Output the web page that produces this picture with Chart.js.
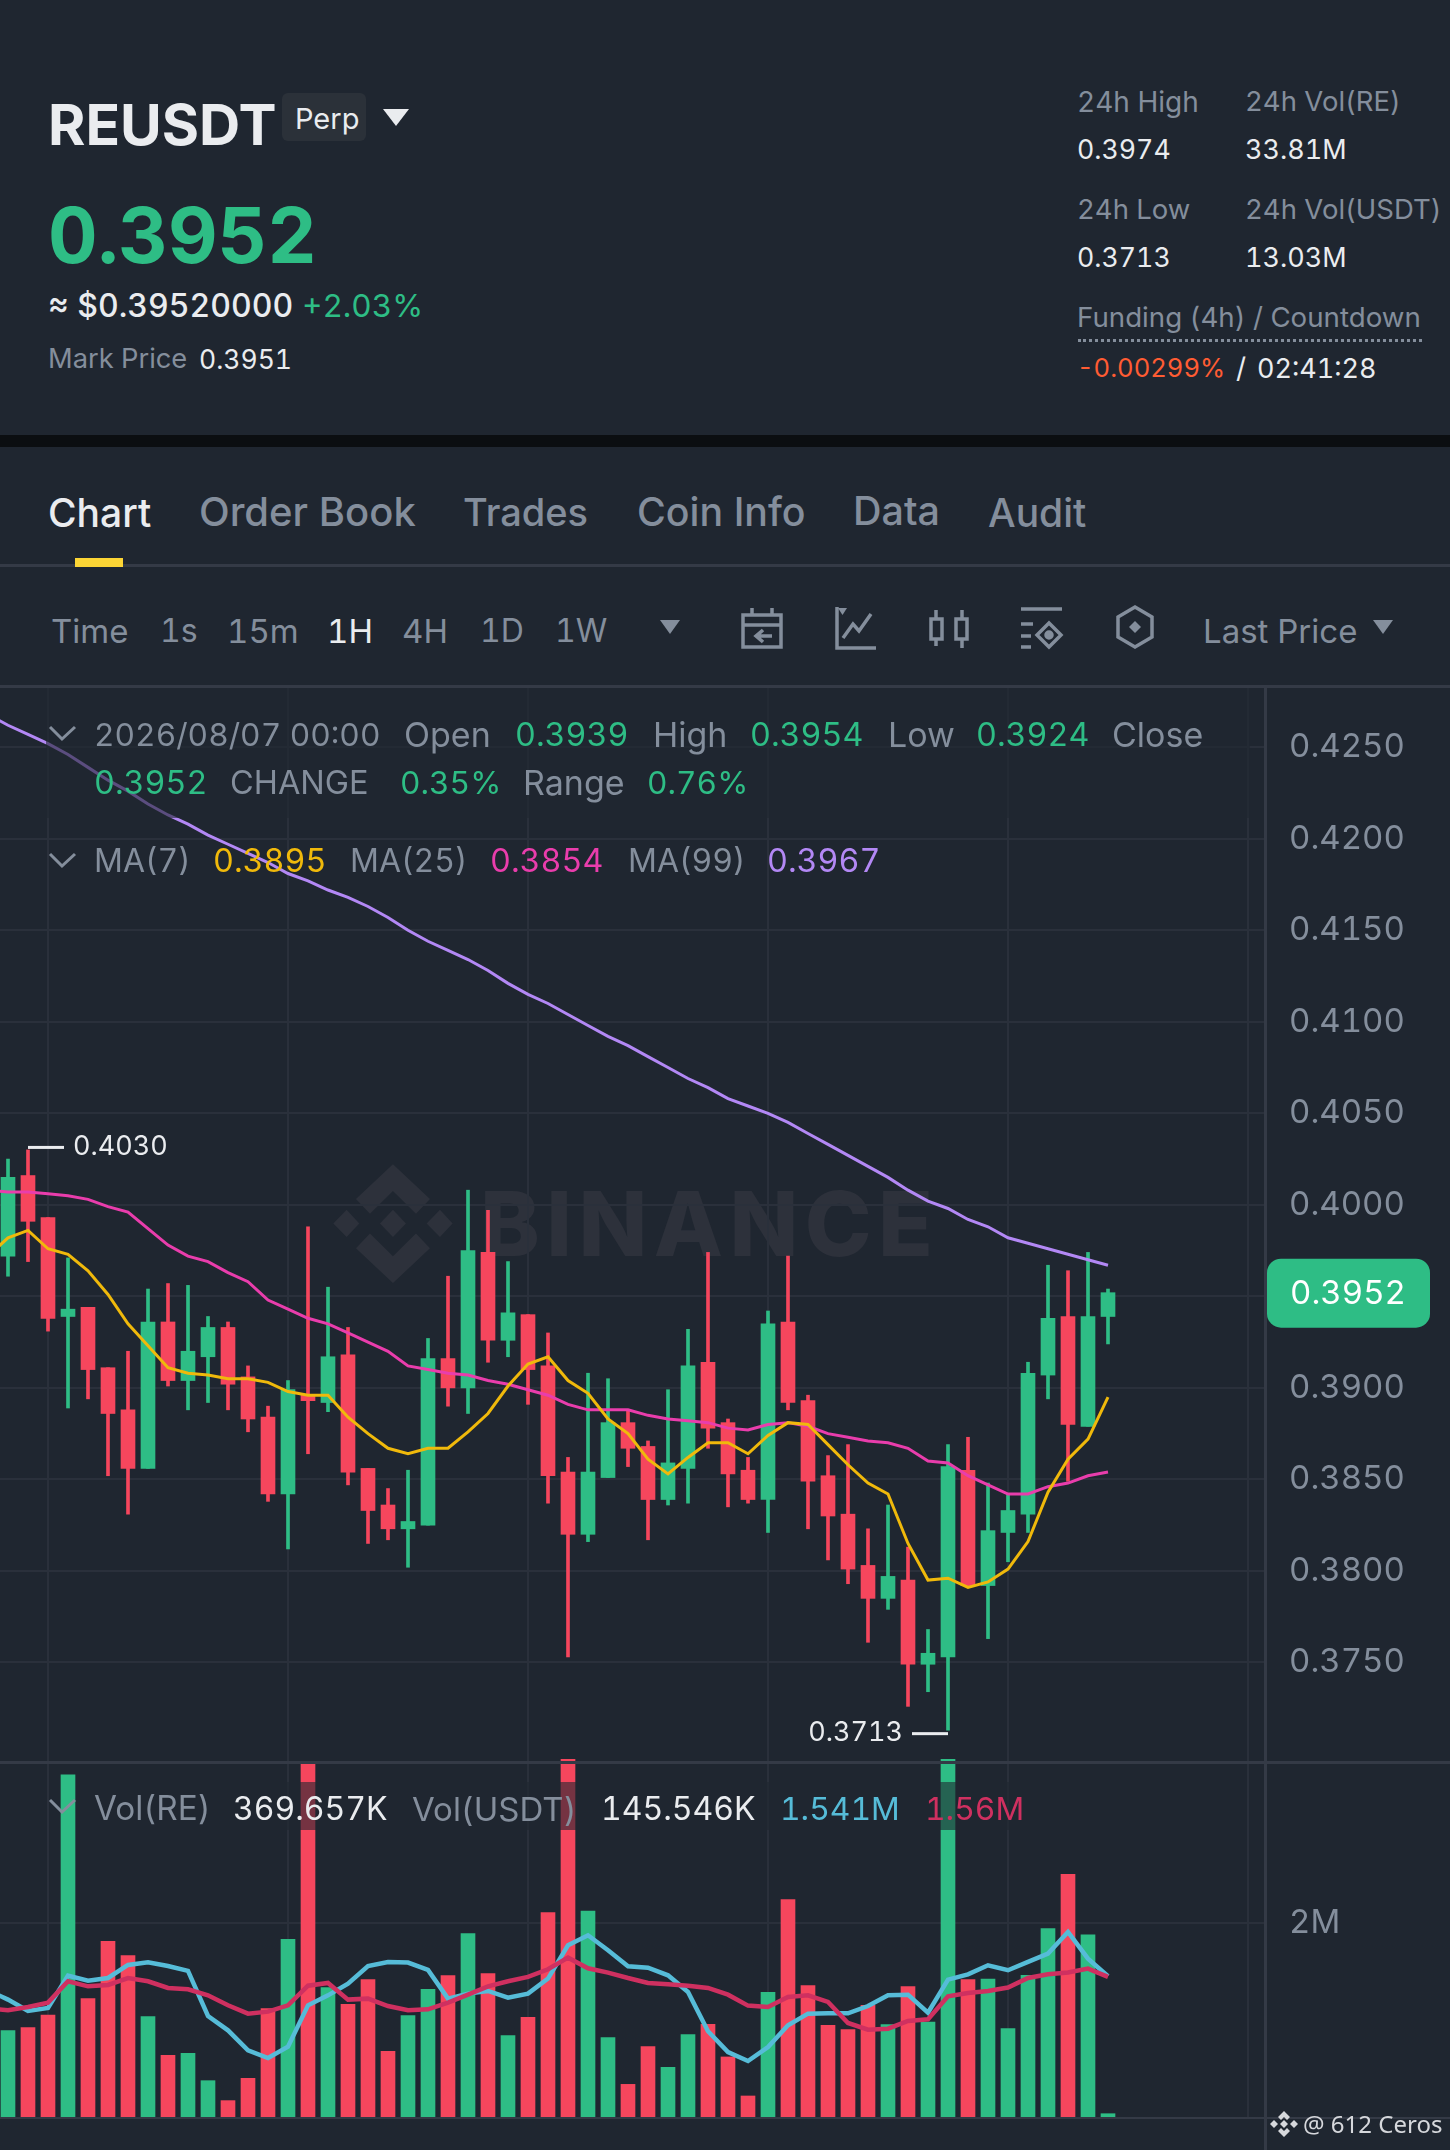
<!DOCTYPE html>
<html>
<head>
<meta charset="utf-8">
<title>REUSDT</title>
<script src="https://cdn.jsdelivr.net/npm/chart.js@4"></script>
<style>
    html, body { margin: 0; padding: 0; background: #1f2630; }
    body { position: relative; width: 1450px; height: 2150px; overflow: hidden; font-family: Inter, sans-serif; font-variant-numeric: tabular-nums; }
    .abs { position: absolute; }
    .t { position: absolute; white-space: nowrap; line-height: 1; transform: translateY(-50%); z-index: 6; }
    canvas { position: absolute; left: 0; z-index: 2; }
    .rule { position: absolute; background: #343a46; z-index: 4; }
</style>
</head>
<body>
<svg class="abs" style="left:0;top:0;z-index:1" width="1450" height="2150">
    <g fill="#2d313b" transform="translate(0,1100) scale(0.3333,0.4337)">
        <polygon points="1068,228 1179,148 1290,228 1248,262 1179,210 1110,262"/>
        <polygon points="1000,285 1040,253 1078,285 1040,316"/>
        <polygon points="1140,285 1179,253 1218,285 1179,316"/>
        <polygon points="1280,285 1320,253 1358,285 1320,316"/>
        <polygon points="1068,342 1110,308 1179,360 1248,308 1290,342 1179,422"/>
    </g>
    <text x="480" y="1256" fill="#2d313b" font-family="Inter" font-weight="800" font-size="90" textLength="453" lengthAdjust="spacing">BINANCE</text>
</svg>
<canvas id="price-chart" width="1450" height="1077" style="top:685px;width:1450px;height:1077px"></canvas>
<canvas id="volume-chart" width="1450" height="358" style="top:1759px;width:1450px;height:358px"></canvas>
<div id="overlay"></div>

<script>
// candles
const opens = [.3972,.4016,.3993,.3939,.3944,.3911,.3888,.3856,.3936,.3904,.3917,.3933,.3906,.3884,.3842,.3896,.3892,.3918,.3856,.3836,.3823,.3825,.3916,.3900,.3974,.3926,.3940,.3912,.3854,.3820,.3851,.3881,.3868,.3839,.3856,.3914,.3881,.3855,.3839,.3936,.3893,.3852,.3831,.3803,.3785,.3795,.3749,.3753,.3855,.3792,.3821,.3831,.3907,.3939,.3879,.3939];
const highs = [.4025,.4030,.3993,.3971,.3944,.3911,.3920,.3954,.3957,.3956,.3939,.3936,.3912,.3890,.3904,.3988,.3955,.3933,.3856,.3845,.3855,.3927,.3961,.4008,.3997,.3969,.3940,.3930,.3862,.3908,.3905,.3888,.3871,.3899,.3932,.3974,.3883,.3862,.3942,.3972,.3896,.3863,.3869,.3823,.3836,.3813,.3768,.3869,.3873,.3848,.3842,.3914,.3967,.3964,.3974,.3954];
const lows = [.3961,.3969,.3931,.3889,.3894,.3852,.3831,.3856,.3901,.3888,.3892,.3888,.3876,.3838,.3812,.3864,.3887,.3847,.3815,.3817,.3802,.3825,.3890,.3886,.3914,.3917,.3891,.3837,.3753,.3816,.3851,.3857,.3817,.3836,.3837,.3867,.3835,.3837,.3821,.3888,.3823,.3806,.3793,.3761,.3779,.3726,.3734,.3713,.3792,.3763,.3805,.3821,.3894,.3849,.3879,.3924];
const closes = [.4015,.3991,.3938,.3943,.3910,.3886,.3856,.3936,.3904,.3920,.3933,.3902,.3883,.3842,.3899,.3893,.3917,.3854,.3833,.3823,.3827,.3916,.3900,.3975,.3926,.3941,.3910,.3852,.3820,.3854,.3881,.3867,.3839,.3859,.3912,.3878,.3853,.3839,.3935,.3892,.3849,.3830,.3801,.3785,.3797,.3749,.3755,.3857,.3792,.3822,.3833,.3908,.3938,.3880,.3939,.3952];

// moving averages, first entry sits one candle left of the screen
const ma7 = [.3972,.3982,.3986,.3976,.3973,.3964,.3951,.3935,.3923,.3911,.3908,.3907,.3905,.3905,.3903,.3898,.3896,.3896,.3884,.3875,.3867,.3864,.3867,.3867,.3876,.3886,.3901,.3913,.3917,.3904,.3897,.3883,.3875,.3861,.3853,.3862,.3870,.3870,.3864,.3874,.3881,.3880,.3869,.3858,.3848,.3842,.3815,.3795,.3796,.3791,.3794,.3801,.3816,.3843,.3861,.3872,.3895];
const ma25 = [.4008,.4007,.4007,.4006,.4005,.4003,.3999,.3996,.3987,.3978,.3972,.3969,.3963,.3958,.3948,.3943,.3938,.3935,.3930,.3925,.3920,.3912,.3910,.3908,.3907,.3904,.3902,.3899,.3896,.3891,.3888,.3888,.3888,.3885,.3883,.3882,.3881,.3878,.3877,.3880,.3881,.3879,.3875,.3873,.3871,.3870,.3867,.3860,.3859,.3852,.3847,.3842,.3842,.3846,.3848,.3852,.3854];
const ma99 = [.4268,.4262,.4257,.4252,.4246,.4239,.4232,.4226,.4219,.4213,.4208,.4202,.4197,.4192,.4187,.4181,.4177,.4172,.4168,.4163,.4157,.4150,.4144,.4139,.4134,.4128,.4121,.4115,.4110,.4104,.4098,.4092,.4087,.4081,.4075,.4069,.4064,.4058,.4054,.4050,.4045,.4039,.4033,.4027,.4021,.4015,.4008,.4002,.3998,.3992,.3988,.3982,.3979,.3976,.3973,.3970,.3967];

// volume in millions
const volumes = [.892,.923,1.053,3.532,1.222,1.814,1.666,1.036,.637,.657,.375,.169,.399,1.119,1.835,3.642,1.336,1.164,1.418,.678,1.046,1.318,1.460,1.893,1.480,.840,1.029,2.110,3.800,2.127,.819,.337,.726,.513,.850,.957,.620,.217,1.287,2.244,1.356,.947,.902,1.153,.954,1.346,.981,3.800,1.418,1.425,.912,1.463,1.945,2.506,1.880,.034];
const volMaBlue = [1.308,1.212,1.095,1.126,1.460,1.408,1.435,1.570,1.597,1.559,1.508,1.043,.895,.688,.609,.726,1.153,1.256,1.377,1.559,1.601,1.594,1.518,1.222,1.274,1.301,1.232,1.274,1.429,1.773,1.876,1.721,1.556,1.542,1.463,1.291,.885,.671,.578,.723,.947,1.067,1.071,1.071,1.146,1.256,1.263,1.077,1.418,1.473,1.566,1.515,1.601,1.687,1.910,1.635,1.453];
const volMaRed = [1.119,1.102,1.136,1.181,1.401,1.349,1.363,1.435,1.401,1.332,1.318,1.256,1.153,1.067,1.088,1.153,1.356,1.384,1.212,1.222,1.146,1.102,1.112,1.181,1.263,1.349,1.401,1.446,1.525,1.645,1.535,1.491,1.435,1.384,1.370,1.356,1.332,1.263,1.150,1.136,1.239,1.256,1.188,.971,.902,.912,.991,1.009,1.246,1.281,1.301,1.336,1.435,1.473,1.491,1.532,1.446];

const priceTicks = [.425,.42,.415,.41,.405,.4,.395,.39,.385,.38,.375];
const volumeTicks = [2];
const timeTicks = [2,14,26,38,50,62];
const lastPrice = .3952;
const highMark = .4030;
const lowMark = .3713;

const GREEN = '#2ebd85', RED = '#f6465d', GRID = '#2a303b', AXIS = '#848e9c';
const GRAY = '#848e9c', WHITE = '#eaecef';

const candleColors = closes.map((c, i) => c >= opens[i] ? GREEN : RED);
const volumeColors = candleColors;
const toLine = arr => arr.map((v, i) => ({ x: i - 1, y: v }));

// same x range on both panes: 20px per candle, first candle at x=8
const xAxis = () => ({
    type: 'linear', min: -0.4, max: 62.85, offset: false,
    afterBuildTicks: s => { s.ticks = timeTicks.map(v => ({ value: v })); },
    ticks: { display: false },
    grid: { color: GRID, lineWidth: 2, drawTicks: false, offset: false },
    border: { display: false },
    afterFit: s => { s.height = 0; s.paddingLeft = 0; s.paddingRight = 0; }
});

function yAxis(min, max, ticks, fmt) {
    return {
        position: 'right', min: min, max: max,
        afterBuildTicks: s => { s.ticks = ticks.map(v => ({ value: v })); },
        afterFit: s => { s.width = 185; s.paddingTop = 0; s.paddingBottom = 0; },
        ticks: { color: AXIS, padding: 24, font: { family: 'Inter', size: 33 }, callback: fmt },
        grid: { color: GRID, lineWidth: 2, drawTicks: false },
        border: { display: false }
    };
}

const baseOptions = {
    responsive: false,
    animation: false,
    events: [],
    devicePixelRatio: 1,
    layout: { padding: 0 },
    plugins: { legend: { display: false }, tooltip: { enabled: false } }
};

const priceMarks = {
    id: 'priceMarks',
    afterDraw(chart) {
        const ctx = chart.ctx, y = chart.scales.y;
        // last price pill
        const py = y.getPixelForValue(lastPrice);
        ctx.save();
        ctx.fillStyle = GREEN;
        ctx.beginPath();
        ctx.roundRect(1267, py - 34, 163, 69, 14);
        ctx.fill();
        ctx.fillStyle = '#ffffff';
        ctx.font = '33px Inter';
        ctx.textAlign = 'center';
        ctx.textBaseline = 'middle';
        ctx.fillText(lastPrice.toFixed(4), 1348, py + 1);
        // high and low marks
        const hi = y.getPixelForValue(highMark) - 3, lo = y.getPixelForValue(lowMark) + 3;
        ctx.fillStyle = WHITE;
        ctx.font = '27px Inter';
        ctx.fillRect(28, hi - 1, 36, 3);
        ctx.fillRect(912, lo - 1, 36, 3);
        ctx.textAlign = 'left';
        ctx.fillText(highMark.toFixed(4), 73, hi);
        ctx.textAlign = 'right';
        ctx.fillText(lowMark.toFixed(4), 903, lo);
        ctx.restore();
    }
};

new Chart(document.getElementById('price-chart'), {
    type: 'bar',
    data: {
        datasets: [
            { type: 'line', data: toLine(ma7), borderColor: '#f0b90b', borderWidth: 3, pointRadius: 0, tension: 0, order: 1 },
            { type: 'line', data: toLine(ma25), borderColor: '#e93dac', borderWidth: 3, pointRadius: 0, tension: 0, order: 1 },
            { type: 'line', data: toLine(ma99), borderColor: '#b388f5', borderWidth: 3, pointRadius: 0, tension: 0, order: 1 },
            { data: opens.map((o, i) => ({ x: i, y: [o, closes[i]] })), backgroundColor: candleColors, barThickness: 14, grouped: false, order: 2 },
            { data: lows.map((l, i) => ({ x: i, y: [l, highs[i]] })), backgroundColor: candleColors, barThickness: 3, grouped: false, order: 3 }
        ]
    },
    options: Object.assign({}, baseOptions, {
        scales: { x: xAxis(), y: yAxis(.36956, .4284, priceTicks, v => v.toFixed(4)) }
    }),
    plugins: [priceMarks]
});

new Chart(document.getElementById('volume-chart'), {
    type: 'bar',
    data: {
        datasets: [
            { type: 'line', data: toLine(volMaBlue), borderColor: '#56bcd8', borderWidth: 4.5, pointRadius: 0, tension: 0, order: 2 },
            { type: 'line', data: toLine(volMaRed), borderColor: '#cf3060', borderWidth: 4.5, pointRadius: 0, tension: 0, order: 1 },
            { data: volumes.map((v, i) => ({ x: i, y: v })), backgroundColor: volumeColors, barThickness: 14, grouped: false, order: 3 }
        ]
    },
    options: Object.assign({}, baseOptions, {
        scales: { x: xAxis(), y: yAxis(0, 3.696, volumeTicks, v => v + 'M') }
    })
});

// page furniture around the chart
const overlay = document.getElementById('overlay');
function box(x, y, w, h, color, z) {
    const d = document.createElement('div');
    d.className = 'rule';
    d.style.cssText = `left:${x}px;top:${y}px;width:${w}px;height:${h}px;background:${color};z-index:${z || 4}`;
    overlay.appendChild(d);
    return d;
}
function text(s, x, y, size, color, weight) {
    const d = document.createElement('div');
    d.className = 't';
    d.textContent = s;
    d.style.cssText = `left:${x}px;top:${y}px;font-size:${size}px;color:${color};font-weight:${weight || 400}`;
    overlay.appendChild(d);
    return d;
}
function tri(x, y, w, h, color) {
    const d = document.createElement('div');
    d.className = 'abs';
    d.style.cssText = `left:${x}px;top:${y}px;width:0;height:0;border-left:${w / 2}px solid transparent;border-right:${w / 2}px solid transparent;border-top:${h}px solid ${color};z-index:6`;
    overlay.appendChild(d);
}
function chevron(x, y) {
    overlay.insertAdjacentHTML('beforeend', `<svg class="abs" style="left:${x}px;top:${y}px;z-index:6" width="30" height="18"><path d="M2 2 L14 14 L27 2" fill="none" stroke="#848e9c" stroke-width="3"/></svg>`);
}

// header
text('REUSDT', 48, 124, 57, WHITE, 700);
box(282, 93, 84, 48, '#2b3139', 5).style.borderRadius = '6px';
text('Perp', 295, 118, 29, WHITE);
tri(383, 109, 27, 17, WHITE);
text('0.3952', 48, 236, 76.8, GREEN, 700);
text('≈ $0.39520000', 48, 306, 32, WHITE, 500);
text('+2.03%', 302, 306, 31.5, GREEN);
text('Mark Price', 48, 359, 27.3, GRAY);
text('0.3951', 199, 359, 26.5, WHITE);

text('24h High', 1077, 102, 28, GRAY);
text('0.3974', 1077, 149, 26.7, WHITE);
text('24h Low', 1077, 210, 27.5, GRAY);
text('0.3713', 1077, 257, 26.7, WHITE);
text('24h Vol(RE)', 1245, 102, 27.5, GRAY);
text('33.81M', 1245, 149, 27, WHITE);
text('24h Vol(USDT)', 1245, 210, 27.5, GRAY);
text('13.03M', 1245, 257, 27, WHITE);
text('Funding (4h) / Countdown', 1077, 318, 27.7, GRAY);
overlay.insertAdjacentHTML('beforeend', '<div class="abs" style="left:1078px;top:339px;width:344px;border-top:3px dotted #848e9c;z-index:6"></div>');
text('-0.00299%', 1077, 368, 25.6, '#ff5c33');
text('/', 1236, 368, 28, WHITE);
text('02:41:28', 1257, 368, 27, WHITE);

box(0, 435, 1450, 12, '#0b0e11');

// tabs
text('Chart', 48, 512, 39, WHITE, 500);
[['Order Book', 199, 40], ['Trades', 463, 38], ['Coin Info', 637, 39.3], ['Data', 853, 39.5], ['Audit', 988, 39]].forEach(t => text(t[0], t[1], 512, t[2], GRAY, 500));
box(0, 564, 1450, 3, '#343a46');
box(75, 558, 48, 9, '#fcd535', 5);

// toolbar
[['Time', 51, 33], ['1s', 160, 32], ['15m', 227, 33], ['4H', 402, 33], ['1D', 480, 32], ['1W', 555, 32]].forEach(t => text(t[0], t[1], 631, t[2], GRAY));
text('1H', 327, 631, 33, WHITE);
tri(660, 620, 20, 14, GRAY);
text('Last Price', 1203, 631, 33, GRAY);
tri(1373, 620, 21, 14, GRAY);
overlay.insertAdjacentHTML('beforeend', `<svg class="abs" style="left:0;top:600px;z-index:6" width="1450" height="60" fill="none" stroke="#848e9c" stroke-width="3.5">
    <path d="M743 15 h38 v32 h-38 z M743 25 h38 M752 8 v7 M772 8 v7 M772 36 h-16 M763 30 l-7 6 l7 6"/>
    <path d="M837 7 v41 h39 M843 38 l10 -14 l6 7 l12 -17"/><path d="M838 8 h9 l-4.5 7 z" fill="#848e9c" stroke="none"/>
    <path d="M931 19 h11 v20 h-11 z M956 19 h11 v20 h-11 z M936 10 v9 M936 39 v7 M962 10 v9 M962 39 v9"/>
    <path d="M1021 9 h41 M1021 24 h12 M1021 36 h10 M1021 47 h10 M1037 35 l12 -12 l12 12 l-12 12 z"/><circle cx="1049" cy="35" r="3" fill="#848e9c"/>
    <path d="M1135 7 l17 10 v20 l-17 10 l-17 -10 v-20 z"/><path d="M1135 21 l6 6 l-6 6 l-6 -6 z" fill="#848e9c" stroke="none"/>
</svg>`);

// rules over the panes
box(0, 685, 1450, 3, '#343a46');
box(0, 1761, 1450, 3, '#343a46');
box(0, 2117, 1450, 2, '#343a46');
box(1264, 685, 3, 1465, '#343a46');

// legend backdrops let the chart show through faintly
box(46, 688, 1204, 130, 'rgba(31,38,48,0.6)', 5);
box(92, 1782, 943, 48, 'rgba(31,38,48,0.6)', 5);

// legend rows
chevron(48, 725);
[['2026/08/07 00:00', 94, GRAY, 31.7], ['Open', 404, GRAY, 34], ['0.3939', 515, GREEN, 32.3], ['High', 653, GRAY, 34], ['0.3954', 750, GREEN, 32.3], ['Low', 888, GRAY, 34], ['0.3924', 976, GREEN, 32.3], ['Close', 1112, GRAY, 34]]
    .forEach(t => text(t[0], t[1], 735, t[3], t[2]));
[['0.3952', 94, GREEN, 32.3], ['CHANGE', 230, GRAY, 32.5], ['0.35%', 400, GREEN, 31.7], ['Range', 523, GRAY, 34], ['0.76%', 647, GREEN, 31.7]]
    .forEach(t => text(t[0], t[1], 783, t[3], t[2]));
chevron(48, 852);
[['MA(7)', 94, GRAY, 32], ['0.3895', 213, '#f0b90b', 32.3], ['MA(25)', 350, GRAY, 32], ['0.3854', 490, '#e93dac', 32.3], ['MA(99)', 628, GRAY, 32], ['0.3967', 767, '#b388f5', 32.3]]
    .forEach(t => text(t[0], t[1], 861, t[3], t[2]));

chevron(48, 1798);
[['Vol(RE)', 94, GRAY, 33.3], ['369.657K', 233, WHITE, 32], ['Vol(USDT)', 412, GRAY, 33], ['145.546K', 601, WHITE, 32], ['1.541M', 780, '#56bcd8', 31.8], ['1.56M', 925, '#cf3060', 31.8]]
    .forEach(t => text(t[0], t[1], 1809, t[3], t[2]));

// credit, bottom right
overlay.insertAdjacentHTML('beforeend', `<svg class="abs" style="left:1270px;top:2110px;z-index:6" width="28" height="28" fill="#d6d8dc">
    <polygon points="14,1 20,7 17,10 14,7 11,10 8,7"/><polygon points="0,14 4,10 8,14 4,18"/><polygon points="14,10 18,14 14,18 10,14"/><polygon points="24,10 28,14 24,18 20,14"/><polygon points="14,27 8,21 11,18 14,21 17,18 20,21"/></svg>`);
const credit = text('@ 612 Ceros', 1303, 2124, 24, '#d6d8dc');
credit.style.fontFamily = '"Noto Sans", sans-serif';
</script>
</body>
</html>
